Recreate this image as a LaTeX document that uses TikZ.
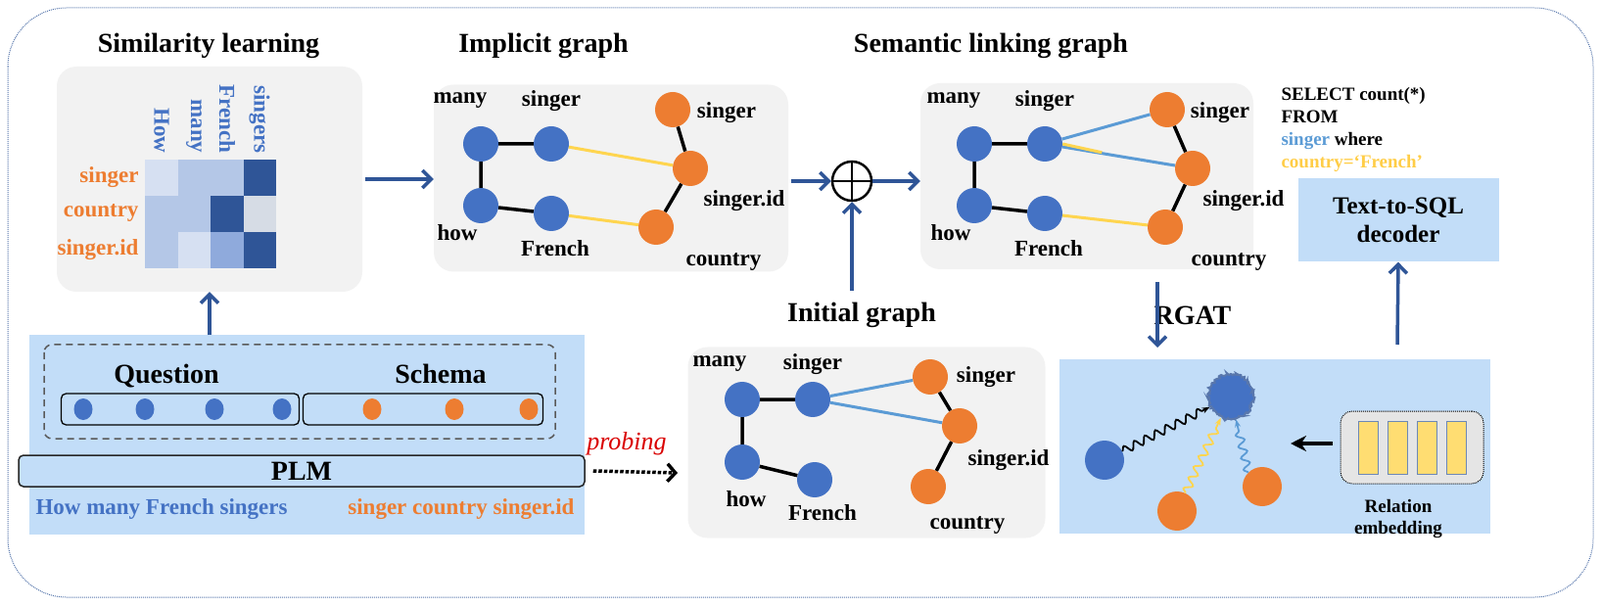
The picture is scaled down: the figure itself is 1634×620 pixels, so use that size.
\documentclass[tikz,border=0pt]{standalone}
\usepackage{fontspec}
\setmainfont{Liberation Serif}
\usetikzlibrary{arrows.meta,decorations.pathmorphing,calc}
\definecolor{nblue}{HTML}{4472C4}
\definecolor{norange}{HTML}{ED7D31}
\definecolor{nyellow}{HTML}{FFD54F}
\definecolor{lblue}{HTML}{5B9BD5}
\definecolor{ablue}{HTML}{2F5597}
\definecolor{pgray}{HTML}{F2F2F2}
\definecolor{bfill}{HTML}{C2DDF8}
\definecolor{cA}{HTML}{D6E0F2}
\definecolor{cB}{HTML}{B4C7E7}
\definecolor{cC}{HTML}{8FAADC}
\definecolor{cD}{HTML}{2F5597}
\definecolor{cE}{HTML}{D6DCE5}
\tikzset{
 ttl/.style={font=\fontsize{28}{30}\selectfont\bfseries},
 lbl/.style={font=\fontsize{23}{25}\selectfont\bfseries},
 bn/.style={circle,fill=nblue,minimum size=36pt,inner sep=0},
 on/.style={circle,fill=norange,minimum size=36pt,inner sep=0},
 pane/.style={fill=pgray,rounded corners=20pt},
 bk/.style={line width=3.5pt,black},
 ye/.style={line width=3pt,nyellow},
 lb/.style={line width=3pt,lblue},
 barr/.style={line width=3.5pt,ablue,-{Straight Barb[length=9pt,width=18pt]}},
 wav/.style={line width=1.8pt,-{Stealth[length=8pt]},decorate,decoration={snake,amplitude=4pt,segment length=12pt,post length=7pt}},
}
\begin{document}
\begin{tikzpicture}[x=1pt,y=-1pt]
\useasboundingbox (0,0) rectangle (1634,620);
\draw[ablue!80,densely dotted,line width=1pt,rounded corners=60pt] (8,8) rectangle (1627,610);
% Similarity learning
\node[ttl] (t1) at (213,47) {Similarity learning};
\node[pane,minimum width=312pt,minimum height=230pt] (p1) at (214,183) {};
\foreach \c [count=\i] in {cA,cB,cB,cD}{\fill[\c] (148+33.5*\i-33.5,163) rectangle ++(33.5,37);}
\foreach \c [count=\i] in {cB,cB,cD,cE}{\fill[\c] (148+33.5*\i-33.5,200) rectangle ++(33.5,37);}
\foreach \c [count=\i] in {cB,cA,cC,cD}{\fill[\c] (148+33.5*\i-33.5,237) rectangle ++(33.5,37);}
\foreach \w/\x in {How/165,many/198,French/232,singers/265}
  \node[lbl,text=nblue,rotate=-90,anchor=east] (c\w) at (\x,160) {\w};
\node[lbl,text=norange,anchor=east] (r1) at (145,181) {singer};
\node[lbl,text=norange,anchor=east] (r2) at (145,218) {country};
\node[lbl,text=norange,anchor=east] (r3) at (145,255) {singer.id};
% Implicit graph
\node[ttl] (t2) at (555,47) {Implicit graph};
\node[pane,minimum width=362pt,minimum height=191pt] (p2) at (624,182) {};
\node[bn] (im) at (491,147) {}; \node[bn] (is) at (563,147) {};
\node[bn] (ih) at (491,210) {}; \node[bn] (if) at (563,218) {};
\node[on] (os) at (687,112) {}; \node[on] (oi) at (705,172) {}; \node[on] (oc) at (670,232) {};
\draw[bk] (im)--(is) (im)--(ih) (ih)--(if) (os)--(oi) (oi)--(oc);
\draw[ye] (is)--(oi) (if)--(oc);
\node[lbl] at (470,103) {many}; \node[lbl] at (563,103) {singer};
\node[lbl] at (467,238) {how}; \node[lbl] at (567,254) {French};
\node[lbl] at (742,115) {singer}; \node[lbl] at (760,205) {singer.id}; \node[lbl] at (739,268) {country};
\draw[barr] (p1.east|-0,183) ++(3,0) -- (p2.west|-0,183);
% oplus
\node[circle,draw,line width=2.5pt,minimum size=40pt,inner sep=0] (op) at (870,185) {};
\draw[line width=2.5pt] (op.north)--(op.south) (op.west)--(op.east);
\draw[barr] (p2.east|-op) ++(3,0) coordinate (a1) -- (op.west);
% Semantic
\node[ttl] (t3) at (1012,47) {Semantic linking graph};
\node[pane,minimum width=340pt,minimum height=190pt] (p3) at (1110,180) {};
\node[bn] (sm) at (995,147) {}; \node[bn] (ss) at (1067,147) {};
\node[bn] (sh) at (995,210) {}; \node[bn] (sf) at (1067,218) {};
\node[on] (ts) at (1192,112) {}; \node[on] (ti) at (1218,172) {}; \node[on] (tc) at (1190,232) {};
\draw[bk] (sm)--(ss) (sm)--(sh) (sh)--(sf) (ts)--(ti) (ti)--(tc);
\draw[lb] (ss)--(ts);
\draw[lb] (ss)--(ti);
\draw[ye] (ss.east) -- ($(ss.east)!0.35!(ti.west)$);
\draw[ye] (sf)--(tc);
\node[lbl] at (974,103) {many}; \node[lbl] at (1067,103) {singer};
\node[lbl] at (971,238) {how}; \node[lbl] at (1071,254) {French};
\node[lbl] at (1246,115) {singer}; \node[lbl] at (1270,205) {singer.id}; \node[lbl] at (1255,268) {country};
\draw[barr] (op.east) -- (p3.west|-op);
% SQL
\node[anchor=north west,align=left,font=\fontsize{19}{23}\selectfont\bfseries] (sql) at (1305,86)
 {SELECT count(*)\\FROM\\\textcolor{lblue}{singer} where\\\textcolor{nyellow!90!orange}{country=‘French’}};
\node[fill=bfill,minimum width=205pt,minimum height=85pt,align=center,font=\fontsize{25}{29}\selectfont\bfseries] (dec) at (1428,225) {Text-to-SQL\\decoder};
% Initial graph
\node[ttl] (t4) at (880,322) {Initial graph};
\node[pane,minimum width=365pt,minimum height=195pt] (p4) at (885,452) {};
\draw[barr] (870,297) -- (op.south);
\node[bn] (gm) at (758,408) {}; \node[bn] (gs) at (830,408) {};
\node[bn] (gh) at (758,472) {}; \node[bn] (gf) at (832,490) {};
\node[on] (us) at (950,385) {}; \node[on] (ui) at (980,435) {}; \node[on] (uc) at (948,497) {};
\draw[bk] (gm)--(gs) (gm)--(gh) (gh)--(gf) (us)--(ui) (ui)--(uc);
\draw[lb] (gs)--(us) (gs)--(ui);
\node[lbl] at (735,372) {many}; \node[lbl] at (830,372) {singer};
\node[lbl] at (762,510) {how}; \node[lbl] at (840,524) {French};
\node[lbl] at (1007,385) {singer}; \node[lbl] at (1030,470) {singer.id}; \node[lbl] at (988,537) {country};
% RGAT
\node[ttl] (t5) at (1218,322) {RGAT};
\node[fill=bfill,minimum width=440pt,minimum height=178pt] (rg) at (1302,456) {};
\draw[barr] (1182,288) -- (1182,355);
\draw[barr] (1427,352) -- (dec.south);
\node[circle,fill=nblue,minimum size=46pt,inner sep=0,draw=ablue!80,line width=2pt,decorate,decoration={random steps,segment length=1.5pt,amplitude=1.5pt}] (hub) at (1257,405) {};
\node[circle,fill=nblue,minimum size=40pt,inner sep=0] (n1) at (1128,470) {};
\node[circle,fill=norange,minimum size=40pt,inner sep=0] (n2) at (1202,522) {};
\node[circle,fill=norange,minimum size=40pt,inner sep=0] (n3) at (1289,497) {};
\draw[wav,black] (n1) -- (hub);
\draw[wav,nyellow] (n2) -- (hub);
\draw[wav,lblue] (n3.north west) -- (hub);
\node[draw,densely dotted,line width=1pt,fill=gray!20,rounded corners=12pt,minimum width=146pt,minimum height=74pt] (re) at (1442,457) {};
\foreach \i in {0,1,2,3}\draw[fill=nyellow!80,draw=ablue!70,line width=0.8pt] (1387+30*\i,430) rectangle ++(20,54);
\node[align=center,font=\fontsize{19}{22}\selectfont\bfseries] (rt) at (1428,530) {Relation\\embedding};
\draw[line width=3.5pt,-{Stealth[length=16pt,width=16pt]}] (re.west) ++(-8,-4) -- (1318,453);
% bottom left
\node[fill=bfill,minimum width=567pt,minimum height=203pt] (bl) at (313,444) {};
\draw[barr] (bl.north-|p1) -- (p1.south);
\draw[line width=1.5pt,gray!70!black,rounded corners=8pt,dash pattern=on 7pt off 5pt] (45,352) rectangle (567,448);
\node[ttl] at (170,384) {Question}; \node[ttl] at (450,382) {Schema};
\node[draw,line width=1.3pt,rounded corners=5pt,minimum width=243pt,minimum height=32pt] (qb) at (184,418) {};
\node[draw,line width=1.3pt,rounded corners=5pt,minimum width=245pt,minimum height=32pt] (sb) at (432,418) {};
\foreach \x in {85,148,219,288}\fill[nblue] (\x,418) ellipse (9.5pt and 11pt);
\foreach \x in {380,464,540}\fill[norange] (\x,418) ellipse (9.5pt and 11pt);
\node[draw,line width=1.5pt,gray!30!black,fill=bfill,rounded corners=5pt,minimum width=578pt,minimum height=32pt] (plm) at (308,481) {};
\node[ttl] at (plm) {PLM};
\node[lbl,anchor=west,text=nblue] at (33,520) {How many French singers};
\node[lbl,anchor=east,text=norange] at (590,520) {singer country singer.id};
\draw[line width=3.5pt,dotted,-{Straight Barb[length=8pt,width=18pt]}] (plm.east)++(8,0) -- (692,483);
\node[font=\fontsize{26}{28}\selectfont\itshape,text=red!85!black] at (640,453) {probing};
\end{tikzpicture}
\end{document}
